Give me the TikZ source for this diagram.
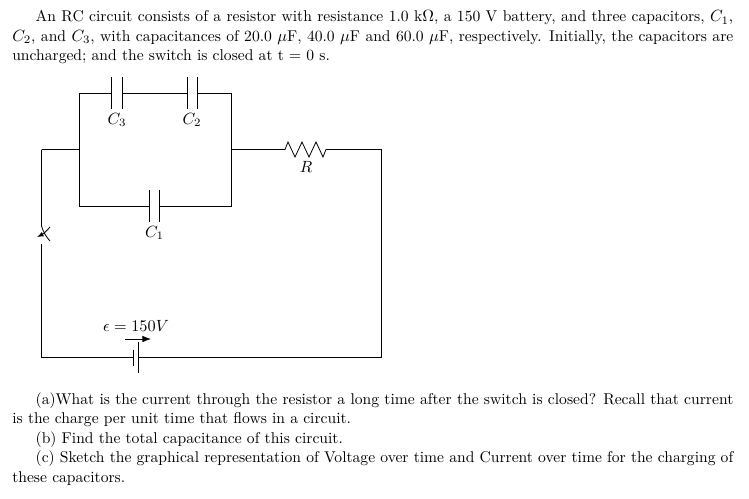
\documentclass[tikz,border=0pt]{standalone}
\usepackage{amsmath}
\usepackage{amssymb}
\usepackage{xcolor}
\usetikzlibrary{arrows.meta}
\def\pxunit{0.6154pt}
\tikzset{
  wire/.style={line width=0.5pt, line join=miter},
  para/.style={anchor=north west, inner sep=0pt, text width=443.7pt, align=justify, font=\fontsize{9.6}{12}\selectfont},
  lab/.style={inner sep=0pt},
}
\begin{document}
\begin{tikzpicture}[x=\pxunit, y=-\pxunit]
      \useasboundingbox (0,0) rectangle (749,498);
      % text above the circuit
      \node[para] (question) at (12,10.2) {\hspace*{14.4pt}An RC circuit consists of a resistor with resistance 1.0 k$\Omega$, a 150 V battery, and three capacitors, $C_1$, $C_2$, and $C_3$, with capacitances of 20.0 $\mu$F, 40.0 $\mu$F and 60.0 $\mu$F, respectively. Initially, the capacitors are uncharged; and the switch is closed at t = 0 s.};
      % corners and junctions
      \coordinate (lefttop) at (41.5,149.5);
      \coordinate (swtop) at (41.5,226);
      \coordinate (swbot) at (41.5,244);
      \coordinate (leftbot) at (41.5,357);
      \coordinate (rightbot) at (381.5,357);
      \coordinate (righttop) at (381.5,149.5);
      \coordinate (jleft) at (79,149.5);
      \coordinate (jright) at (231,149.5);
      \coordinate (tl) at (79,93);
      \coordinate (tr) at (231,93);
      \coordinate (bl) at (79,206);
      \coordinate (br) at (231,206);
      % capacitors
      \foreach \name/\x/\y in {cthree/117/93, ctwo/192.5/93, cone/154.7/206} {
        \coordinate (\name a) at (\x-5.2,\y);
        \coordinate (\name b) at (\x+5.2,\y);
        \draw[wire] (\x-5.2,\y-16) -- (\x-5.2,\y+16);
        \draw[wire] (\x+5.2,\y-16) -- (\x+5.2,\y+16);
      }
      \draw[wire] (jleft) -- (tl) -- (cthreea);
      \draw[wire] (cthreeb) -- (ctwoa);
      \draw[wire] (ctwob) -- (tr) -- (br) -- (coneb);
      \draw[wire] (conea) -- (bl) -- (jleft);
      \node[lab] (cthreelab) at (117,120) {$C_3$};
      \node[lab] (ctwolab) at (192,120) {$C_2$};
      \node[lab] (conelab) at (154.5,233) {$C_1$};
      % resistor
      \coordinate (ra) at (285,149.5);
      \coordinate (rb) at (329,149.5);
      \draw[wire] (jright) -- (ra) -- (288,142) -- (295,157) -- (302,142) -- (309,157) -- (316,142) -- (323,157) -- (326,149.5) -- (rb) -- (righttop) -- (rightbot);
      \node[lab] (rlab) at (306,167) {$R$};
      % battery
      \coordinate (bata) at (133.3,357);
      \coordinate (batb) at (138.5,357);
      \draw[wire] (rightbot) -- (batb);
      \draw[wire] (bata) -- (leftbot) -- (swbot);
      \draw[wire] (133.3,349.5) -- (133.3,365.5);
      \draw[wire] (138.5,341.5) -- (138.5,372.5);
      \coordinate (arra) at (125,339);
      \coordinate (arrb) at (151,339);
      \draw[wire, -{Latex[length=7pt*0.75,width=4pt]}] (arra) -- (arrb);
      \node[lab] (emf) at (136,326) {$\epsilon = 150V$};
      % switch
      \draw[wire] (lefttop) -- (jleft);
      \draw[wire] (lefttop) -- (swtop) to[bend right=12] (50,241);
      \draw[wire, -{Latex[length=4pt,width=3pt]}] (50,227) to[bend left=12] (37,237);
      % questions under the circuit
      \node[para] (parta) at (12,392.2) {\hspace*{14.4pt}(a)What is the current through the resistor a long time after the switch is closed? Recall that current is the charge per unit time that flows in a circuit.\\
      \hspace*{14.4pt}(b) Find the total capacitance of this circuit.\\
      \hspace*{14.4pt}(c) Sketch the graphical representation of Voltage over time and Current over time for the charging of these capacitors.};
\end{tikzpicture}
\end{document}
